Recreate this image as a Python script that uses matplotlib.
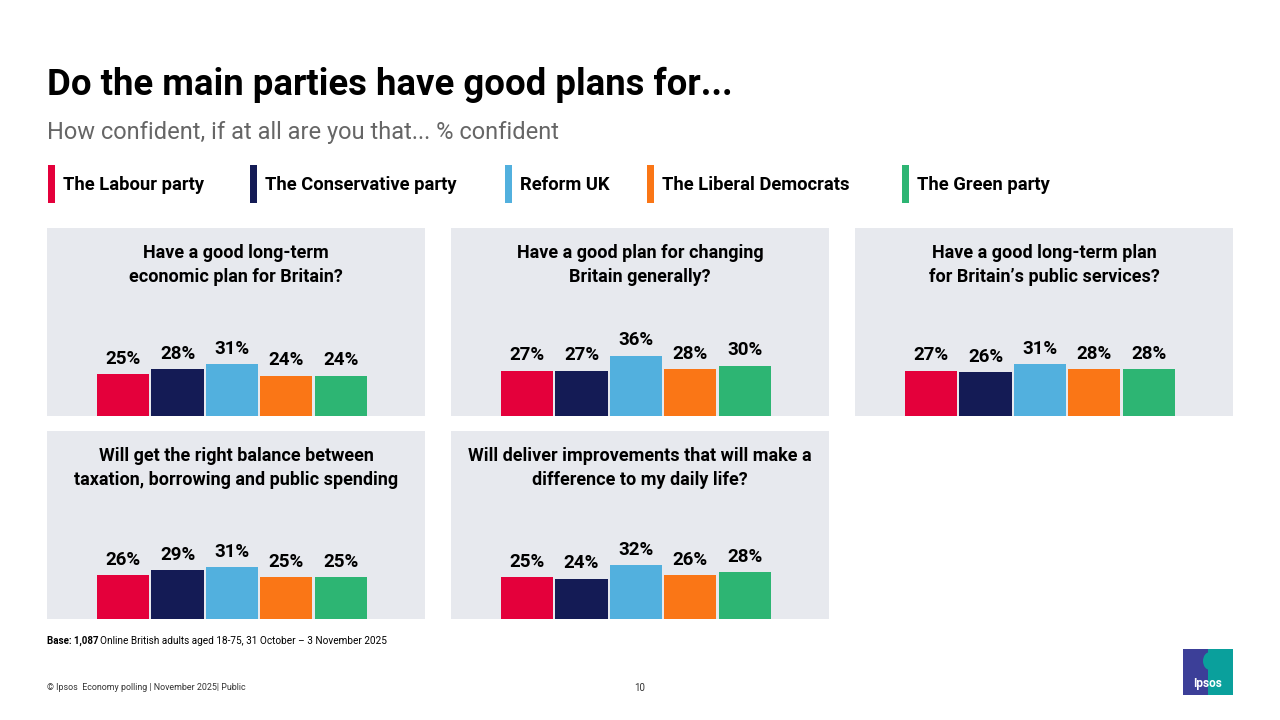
import matplotlib
matplotlib.use("Agg")
import matplotlib.pyplot as plt
from matplotlib.patches import Rectangle, Ellipse

plt.rcParams['font.family'] = ['Roboto', 'DejaVu Sans']

parties = ["The Labour party", "The Conservative party", "Reform UK",
           "The Liberal Democrats", "The Green party"]
colors = ["#E4003B", "#141B55", "#52B0DE", "#FA7616", "#2DB573"]

questions = [
    "Have a good long-term\neconomic plan for Britain?",
    "Have a good plan for changing\nBritain generally?",
    "Have a good long-term plan\nfor Britain\u2019s public services?",
    "Will get the right balance between\ntaxation, borrowing and public spending",
    "Will deliver improvements that will make a\ndifference to my daily life?",
]
values = [
    [25, 28, 31, 24, 24],
    [27, 27, 36, 28, 30],
    [27, 26, 31, 28, 28],
    [26, 29, 31, 25, 25],
    [25, 24, 32, 26, 28],
]

W, H = 1280, 720
fig = plt.figure(figsize=(12.8, 7.2), dpi=100)
fig.patch.set_facecolor("white")

def fx(x): return x / W
def fy(y): return 1 - y / H

# Title and subtitle
fig.text(fx(47), fy(85), "Do the main parties have good plans for...", fontsize=26.3,
         fontweight="bold", color="black", va="center", ha="left")
fig.text(fx(47), fy(133), "How confident, if at all are you that... % confident", fontsize=17,
         color="#666666", va="center", ha="left")

# Legend
leg_x = [48, 250, 505, 647, 902]
for x, name, c in zip(leg_x, parties, colors):
    fig.patches.append(Rectangle((fx(x), fy(203)), fx(7), 38 / H, transform=fig.transFigure,
                                 facecolor=c, edgecolor="none"))
    fig.text(fx(x + 15), fy(185), name, fontsize=13.2, fontweight="bold", color="black",
             va="center", ha="left")

# Panels
panel_pos = [(47, 228), (451, 228), (855, 228), (47, 431), (451, 431)]
pw, ph = 378, 188
px_per_unit = 54.4
for (x0, y0), q, vals in zip(panel_pos, questions, values):
    ax = fig.add_axes([fx(x0), fy(y0 + ph), pw / W, ph / H])
    ax.set_facecolor("#E7E9EE")
    for s in ax.spines.values():
        s.set_visible(False)
    ax.set_xticks([]); ax.set_yticks([])
    xs = list(range(len(vals)))
    ax.bar(xs, vals, width=0.96, color=colors, edgecolor="none")
    left = -0.48 - 50 / px_per_unit
    ax.set_xlim(left, left + pw / px_per_unit)
    ax.set_ylim(0, ph / 1.68)
    for x, v in zip(xs, vals):
        ax.annotate(f"{v}%", (x, v), xytext=(0, 4.5), textcoords="offset points",
                    ha="center", va="bottom", fontsize=13.5, fontweight="bold", color="black")
    ax.text(0.5, 1 - 16 / ph, q, transform=ax.transAxes, ha="center", va="top",
            fontsize=13, fontweight="bold", color="black", linespacing=1.42)

# Base note
fig.text(fx(47), fy(641), "Base: 1,087", fontsize=7, fontweight="bold", va="center", ha="left")
fig.text(fx(100), fy(641), "Online British adults aged 18-75, 31 October \u2013 3 November 2025",
         fontsize=7.2, va="center", ha="left")

# Footer
fig.text(fx(47), fy(688), "\u00a9 Ipsos  Economy polling | November 2025| Public", fontsize=6.4,
         color="#333333", va="center", ha="left")
fig.text(fx(640), fy(688), "10", fontsize=7, color="#333333", va="center", ha="center")

# Ipsos logo
fig.patches.append(Rectangle((fx(1183), fy(695)), fx(25), 46 / H, transform=fig.transFigure,
                             facecolor="#3C3F98", edgecolor="none"))
fig.patches.append(Rectangle((fx(1208), fy(695)), fx(25), 46 / H, transform=fig.transFigure,
                             facecolor="#0AA09C", edgecolor="none"))
fig.patches.append(Ellipse((fx(1210), fy(661)), fx(14), 18 / H, transform=fig.transFigure,
                           facecolor="#0AA09C", edgecolor="none"))
fig.text(fx(1208), fy(684), "Ipsos", fontsize=8.5, fontweight="bold", color="white",
         va="center", ha="center")

fig.savefig("out.png", dpi=100, facecolor="white")
